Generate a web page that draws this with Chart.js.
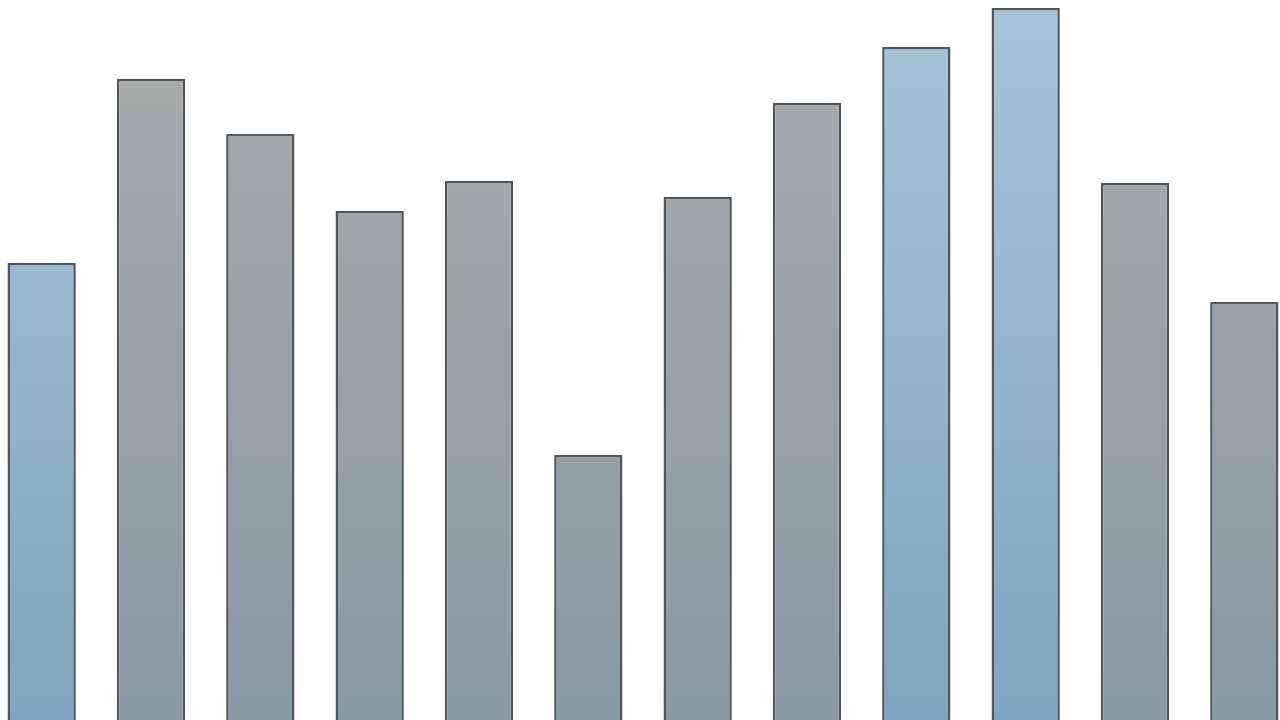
<!DOCTYPE html>
<html>
<head>
<meta charset="utf-8">
<script src="https://cdn.jsdelivr.net/npm/chart.js@4/dist/chart.umd.min.js"></script>
<style>
    html, body { margin: 0; padding: 0; background: #fff; overflow: hidden; }
    #wrap { position: absolute; left: -13px; top: 0; width: 1312px; height: 720px; }
</style>
</head>
<body>
<div id="wrap"><canvas id="bars"></canvas></div>
<script>
// categories (no labels shown in the picture)
const categorias = ["1", "2", "3", "4", "5", "6", "7", "8", "9", "10", "11", "12"];
// bar heights
const valores = [45.7, 64.1, 58.6, 50.9, 53.9, 26.5, 52.3, 61.7, 67.3, 71.2, 53.7, 41.8];
// which bars are highlighted in blue
const resaltados = [true, false, false, false, false, false, false, false, true, true, false, false];
const escalaMax = 72;

function degradado(ctx, area, arriba, abajo) {
    const g = ctx.createLinearGradient(0, area.top, 0, area.bottom);
    g.addColorStop(0, arriba);
    g.addColorStop(1, abajo);
    return g;
}

const ctx = document.getElementById("bars").getContext("2d");
new Chart(ctx, {
    type: "bar",
    data: {
        labels: categorias,
        datasets: [
            {
                data: valores,
                backgroundColor: (c) => {
                    const area = c.chart.chartArea;
                    if (!area) return "#999";
                    return resaltados[c.dataIndex]
                        ? degradado(c.chart.ctx, area, "#a8c5d8", "#7ea5bf")
                        : degradado(c.chart.ctx, area, "#aaaaaa", "#889aa5");
                },
                borderColor: "#4f565c",
                borderWidth: 2.5,
                borderSkipped: "bottom",
                barPercentage: 0.625,
                categoryPercentage: 1,
            },
        ],
    },
    options: {
        responsive: true,
        maintainAspectRatio: false,
        animation: false,
        layout: { padding: 0 },
        plugins: {
            legend: { display: false },
            tooltip: { enabled: false },
        },
        scales: {
            x: { display: false },
            y: { display: false, min: 0, max: escalaMax },
        },
    },
});
</script>
</body>
</html>
